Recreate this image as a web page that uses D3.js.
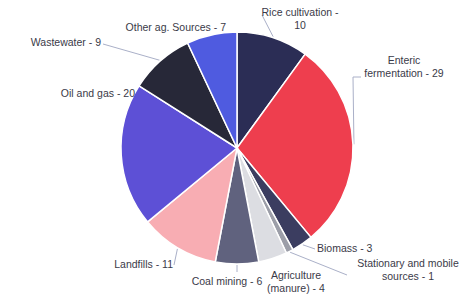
<!DOCTYPE html>
<meta charset="utf-8">
<script src="https://cdn.jsdelivr.net/npm/d3@7"></script>
<style>
body { margin: 0; background: #fff; }
text {
  font-family: "Liberation Sans", Arial, sans-serif;
  font-size: 10.5px;
  fill: #3a3a48;
}
.leader { fill: none; stroke: #aab0c8; stroke-width: 1; }
</style>
<body>
<div id="chart"></div>
<script>
// methane sources, clockwise from 12 o'clock
var sources = ["Rice cultivation", "Enteric fermentation", "Biomass", "Stationary and mobile sources",
               "Agriculture (manure)", "Coal mining", "Landfills", "Oil and gas", "Wastewater", "Other ag. Sources"]
var values = [10, 29, 3, 1, 4, 6, 11, 20, 9, 7]
var colors = ["#2b2d55", "#ee3e4e", "#3b3d60", "#9c9ea8", "#dcdde2", "#60627e", "#f8adb3", "#5d50d6", "#272838", "#4f5be0"]

// label text lines, as written in the chart
var labelLines = [
  ["Rice cultivation -", "10"],
  ["Enteric", "fermentation - 29"],
  ["Biomass - 3"],
  ["Stationary and mobile", "sources - 1"],
  ["Agriculture", "(manure) - 4"],
  ["Coal mining - 6"],
  ["Landfills - 11"],
  ["Oil and gas - 20"],
  ["Wastewater - 9"],
  ["Other ag. Sources - 7"]
]

// label placement (layout, not data)
var labelLayout = [
  {x: 300, y: 12, anchor: "middle", line: [[262, 15]]},
  {x: 404, y: 60, anchor: "middle", line: [[353, 77], [361, 77]]},
  {x: 317, y: 248, anchor: "start", line: [[315, 249]]},
  {x: 408, y: 263, anchor: "middle", line: [[347, 275]]},
  {x: 296, y: 275, anchor: "middle", line: null},
  {x: 227, y: 281, anchor: "middle", line: [[237, 272]]},
  {x: 173, y: 264, anchor: "end", line: [[174, 265]]},
  {x: 135, y: 93, anchor: "end", line: null},
  {x: 101, y: 42, anchor: "end", line: [[103, 44]]},
  {x: 226, y: 27, anchor: "end", line: null}
]

var width = 474, height = 295
var cx = 237, cy = 148, radius = 116

var svg = d3.select("#chart").append("svg")
    .attr("width", width)
    .attr("height", height)

var data = sources.map(function(s, i){ return {name: s, value: values[i], i: i} })

var pie = d3.pie().sort(null).value(function(d){ return d.value })
var arc = d3.arc().innerRadius(0).outerRadius(radius)
var edgeArc = d3.arc().innerRadius(radius + 1).outerRadius(radius + 1)

var arcs = pie(data)

// leader lines first so slices sit on top
var leaders = svg.append("g")
arcs.forEach(function(d){
  var lay = labelLayout[d.data.i]
  if(!lay.line) return
  var p = edgeArc.centroid(d)
  var pts = [[cx + p[0], cy + p[1]]].concat(lay.line)
  leaders.append("path")
    .attr("class", "leader")
    .attr("d", d3.line()(pts))
})

svg.append("g")
    .attr("transform", "translate(" + cx + "," + cy + ")")
  .selectAll("path")
  .data(arcs)
  .enter().append("path")
    .attr("d", arc)
    .attr("fill", function(d){ return colors[d.data.i] })
    .attr("stroke", "#fff")
    .attr("stroke-width", 1.5)
    .attr("stroke-linejoin", "round")

var labels = svg.append("g")
arcs.forEach(function(d){
  var lay = labelLayout[d.data.i]
  var t = labels.append("text")
      .attr("text-anchor", lay.anchor)
      .attr("x", lay.x)
      .attr("y", lay.y + 4)
  labelLines[d.data.i].forEach(function(line, k){
    t.append("tspan")
      .attr("x", lay.x)
      .attr("dy", k == 0 ? 0 : 13)
      .text(line)
  })
})
</script>
</body>
</html>
